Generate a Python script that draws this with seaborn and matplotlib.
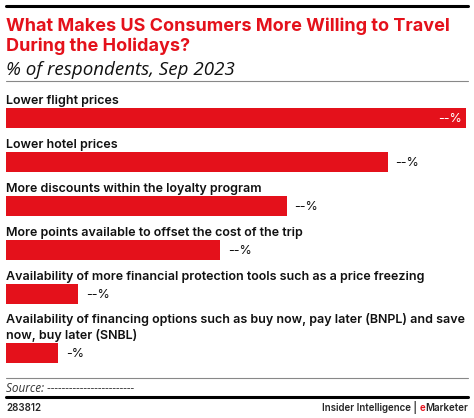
import matplotlib
matplotlib.use("Agg")
import matplotlib.pyplot as plt
import seaborn as sns
import pandas as pd

categories = [
    "Lower flight prices",
    "Lower hotel prices",
    "More discounts within the loyalty program",
    "More points available to offset the cost of the trip",
    "Availability of more financial protection tools such as a price freezing",
    "Availability of financing options such as buy now, pay later (BNPL) and save\nnow, buy later (SNBL)",
]
values = [100, 83, 61, 46.5, 15.7, 11.3]
value_labels = ["--%", "--%", "--%", "--%", "--%", "-%"]

sns.set_theme(style="white")
plt.rcParams['font.family'] = ['Inter', 'DejaVu Sans']

W, H = 474, 418
fig = plt.figure(figsize=(W/100, H/100), dpi=100)
RED = "#e4111b"

# layout: bar centers in pixel rows
centers = []
y = 118
for i, c in enumerate(categories):
    y += 15 * c.count("\n")
    centers.append(y)
    y += 44

df = pd.DataFrame({"cat": categories, "val": values, "pos": centers})
ax = fig.add_axes([6/W, 0, 460/W, 1])
sns.barplot(data=df, x="val", y="pos", orient="h", native_scale=True,
            color=RED, saturation=1, width=20/44, ax=ax, linewidth=0)
ax.set_xlim(0, 100)
ax.set_ylim(H, 0)
ax.axis("off")

for c, v, lab, p in zip(categories, values, value_labels, centers):
    ax.text(0, p - 14, c, fontsize=9, fontweight="semibold", va="baseline", ha="left",
            color="#111111", linespacing=1.25)
    if v >= 95:
        ax.text(v - 1, p + 1, lab, color="white", fontsize=9, va="center", ha="right")
    else:
        ax.text(v + 1.7, p + 1, lab, color="#111111", fontsize=9, va="center", ha="left")

def fy(py):
    return 1 - py/H

fig.add_artist(plt.Line2D([6/W, 468/W], [fy(6), fy(6)], color="black", lw=2.2))
fig.text(6/W, fy(51), "What Makes US Consumers More Willing to Travel\nDuring the Holidays?",
         color=RED, fontsize=13, fontweight="bold", va="baseline", linespacing=1.15)
fig.text(6/W, fy(75), "% of respondents, Sep 2023", fontsize=13.5, style="italic",
         family=["Open Sans", "DejaVu Sans"], va="baseline", color="#111111")
fig.add_artist(plt.Line2D([6/W, 468/W], [fy(81), fy(81)], color="#888888", lw=0.8))
fig.add_artist(plt.Line2D([6/W, 468/W], [fy(378), fy(378)], color="#888888", lw=0.8))
fig.text(6/W, fy(392), "Source: ------------------------", fontsize=8.5, style="italic",
         family=["Open Sans", "DejaVu Sans"], va="baseline", color="#333333")
fig.add_artist(plt.Line2D([6/W, 468/W], [fy(397), fy(397)], color="black", lw=2.2))
fig.text(6/W, fy(411), "283812", fontsize=7, fontweight="semibold", va="baseline")
t2 = fig.text(468/W, fy(411), "Marketer", fontsize=7, fontweight="semibold", va="baseline", ha="right")
fig.canvas.draw()
bb2 = t2.get_window_extent()
t3 = fig.text(bb2.x0/W, fy(411), "e", fontsize=7, fontweight="semibold", va="baseline", ha="right", color=RED)
fig.canvas.draw()
bb3 = t3.get_window_extent()
fig.text(bb3.x0/W, fy(411), "Insider Intelligence | ", fontsize=7, fontweight="semibold", va="baseline", ha="right")

fig.savefig("out.png", dpi=100)
